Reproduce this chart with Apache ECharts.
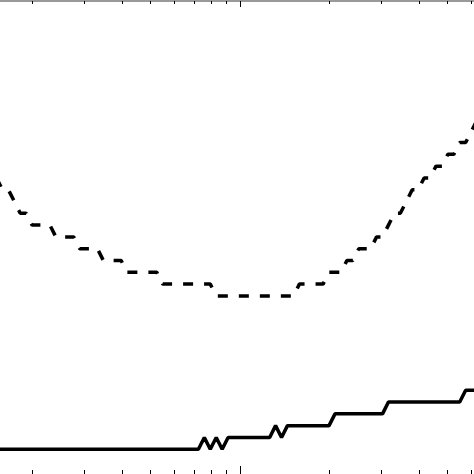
<!DOCTYPE html>
<html>
<head>
<meta charset="utf-8">
<script src="https://cdn.jsdelivr.net/npm/echarts@6/dist/echarts.min.js"></script>
<style>
html,body{margin:0;padding:0;background:#fff;}
#chart{width:474px;height:474px;}
</style>
</head>
<body>
<div id="chart"></div>
<script>
// Sample positions (log-spaced)
const freq = [
  1.514, 1.585, 1.660, 1.738, 1.820, 1.905, 1.995, 2.089, 2.188, 2.291,
  2.399, 2.512, 2.630, 2.754, 2.884, 3.020, 3.162, 3.311, 3.467, 3.631,
  3.802, 3.981, 4.169, 4.365, 4.571, 4.786, 5.012, 5.248, 5.495, 5.754,
  6.026, 6.310, 6.607, 6.918, 7.244, 7.586, 7.943, 8.318, 8.710, 9.120,
  9.550, 10.00, 10.47, 10.96, 11.48, 12.02, 12.59, 13.18, 13.80, 14.45,
  15.14, 15.85, 16.60, 17.38, 18.20, 19.05, 19.95, 20.89, 21.88, 22.91,
  23.99, 25.12, 26.30, 27.54, 28.84, 30.20, 31.62, 33.11, 34.67, 36.31,
  38.02, 39.81, 41.69, 43.65, 45.71, 47.86, 50.12, 52.48, 54.95, 57.54,
  60.26, 63.10
];
// Dashed curve levels
const dashedValues = [
  25,24,24,23,22,22,21,21,21,21,20,20,20,20,19,19,19,19,18,18,
  18,18,17,17,17,17,17,17,16,16,16,16,16,16,16,16,16,15,15,15,
  15,15,15,15,15,15,15,15,15,15,15,16,16,16,16,16,17,17,17,18,
  18,19,19,19,20,20,21,22,22,23,24,24,25,25,26,26,27,27,28,28,
  29,30
];
// Solid curve levels
const solidValues = [
  2,2,2,2,2,2,2,2,2,2,2,2,2,2,2,2,2,2,2,2,
  2,2,2,2,2,2,2,2,2,2,2,2,2,2,2,3,2,3,2,3,
  3,3,3,3,3,3,3,4,3,4,4,4,4,4,4,4,4,5,5,5,
  5,5,5,5,5,5,6,6,6,6,6,6,6,6,6,6,6,6,6,7,
  7,7
];
const minorTicks = [2,3,4,5,6,7,8,9,20,30,40,50,60];
const majorTicks = [10];

const xMin = 1.5556, xMax = 61.38;

function tickAxis(pos, ticks, len, showLine) {
  return {
    type: 'log', logBase: 10, min: xMin, max: xMax, position: pos, gridIndex: 0,
    axisLine: {show: showLine, onZero: false, lineStyle: {color: '#999', width: 2}},
    axisTick: {show: true, inside: true, length: len, customValues: ticks,
               lineStyle: {color: '#000', width: 1}},
    axisLabel: {show: false}, splitLine: {show: false}, minorTick: {show: false}
  };
}

const chart = echarts.init(document.getElementById('chart'), null, {renderer: 'canvas'});
chart.setOption({
  animation: false,
  backgroundColor: '#fff',
  grid: {left: 0, right: 0, top: 1, bottom: -1, containLabel: false},
  xAxis: [
    {type: 'log', logBase: 10, min: xMin, max: xMax, position: 'bottom',
     axisLine: {show: false, onZero: false}, axisTick: {show: false},
     axisLabel: {show: false}, splitLine: {show: false}},
    tickAxis('bottom', minorTicks, 4, false),
    tickAxis('bottom', majorTicks, 8, false),
    tickAxis('top', minorTicks, 3, true),
    tickAxis('top', majorTicks, 6, false)
  ],
  yAxis: {type: 'value', min: -0.1, max: 40,
    axisLine: {show: false}, axisTick: {show: false}, axisLabel: {show: false}, splitLine: {show: false}},
  series: [
    {type: 'line', xAxisIndex: 0, data: freq.map((f, i) => [f, dashedValues[i]]),
     showSymbol: false, symbol: 'none',
     lineStyle: {color: '#000', width: 3.5, type: [10, 11], dashOffset: 0, cap: 'butt'}},
    {type: 'line', xAxisIndex: 0, data: freq.map((f, i) => [f, solidValues[i]]),
     showSymbol: false, symbol: 'none',
     lineStyle: {color: '#000', width: 3.5, type: 'solid'}}
  ]
});
</script>
</body>
</html>
